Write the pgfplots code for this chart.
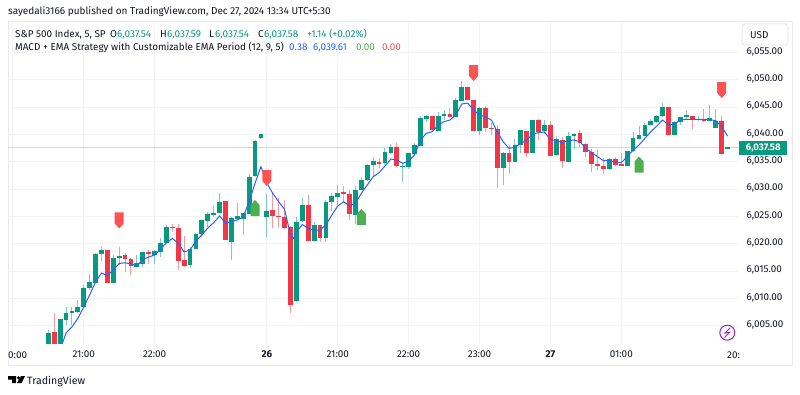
\documentclass[border=0pt]{standalone}
\usepackage{fontspec}
\usepackage{pgfplots}
\usepackage{pgfplotstable}
\pgfplotsset{compat=1.18}
\setmainfont{Fira Sans}
\definecolor{tvg}{HTML}{089981}
\definecolor{tvr}{HTML}{F23645}
\definecolor{sigr}{HTML}{FF5252}
\definecolor{sigg}{HTML}{4CAF50}
\definecolor{ema}{HTML}{2962FF}
\definecolor{gridc}{HTML}{F3F4F6}
\definecolor{framec}{HTML}{E8EAEF}
\definecolor{txt}{HTML}{131722}
\definecolor{vio}{HTML}{9C27B0}
\pgfdeclareplotmark{flagdown}{%
  \pgfsetcornersarced{\pgfpoint{1pt}{1pt}}%
  \pgfpathmoveto{\pgfqpoint{-4.5pt}{8pt}}%
  \pgfpathlineto{\pgfqpoint{4.5pt}{8pt}}%
  \pgfpathlineto{\pgfqpoint{4.5pt}{-3pt}}%
  \pgfsetcornersarced{\pgfpointorigin}%
  \pgfpathlineto{\pgfqpoint{0pt}{-8pt}}%
  \pgfpathlineto{\pgfqpoint{-4.5pt}{-3pt}}%
  \pgfpathclose\pgfusepathqfill}
\pgfdeclareplotmark{flagup}{%
  \pgfpathmoveto{\pgfqpoint{-4.5pt}{-8pt}}%
  \pgfpathlineto{\pgfqpoint{4.5pt}{-8pt}}%
  \pgfpathlineto{\pgfqpoint{4.5pt}{3pt}}%
  \pgfpathlineto{\pgfqpoint{0pt}{8pt}}%
  \pgfpathlineto{\pgfqpoint{-4.5pt}{3pt}}%
  \pgfpathclose\pgfusepathqfill}
\pgfplotstableread{
i o h l c
0 6001.34 6004.27 6001.34 6003.67
2 6001.34 6006.28 6001.16 6006.28
3 6006.10 6008.53 6005.18 6007.32
4 6007.32 6008.53 6005.18 6007.69
5 6007.61 6009.75 6007.43 6008.53
6 6008.47 6012.49 6008.24 6012.00
7 6011.95 6014.51 6011.58 6013.04
8 6012.92 6018.29 6012.92 6018.16
9 6018.11 6019.50 6016.94 6018.89
11 6012.92 6017.98 6012.92 6017.43
12 6017.38 6019.50 6016.15 6017.74
15 6015.79 6017.98 6015.73 6016.52
16 6016.39 6018.58 6015.73 6018.53
18 6017.98 6018.89 6016.33 6018.71
19 6018.58 6021.03 6017.67 6020.17
20 6020.23 6023.46 6020.17 6023.04
24 6016.15 6019.50 6015.66 6019.08
25 6019.08 6022.00 6019.08 6021.76
26 6021.76 6024.32 6021.32 6024.32
27 6024.19 6025.89 6023.15 6025.47
28 6025.29 6027.12 6024.87 6025.60
29 6025.60 6029.26 6025.60 6027.72
31 6020.41 6024.87 6017.06 6024.69
32 6024.56 6027.43 6024.38 6025.11
33 6024.61 6025.66 6021.63 6025.60
34 6025.53 6032.73 6025.53 6032.18
35 6032.42 6039.00 6032.24 6038.82
36 6039.37 6040.19 6039.13 6040.10
37 6024.93 6029.13 6021.21 6025.97
42 6009.57 6024.98 6009.39 6024.07
43 6024.14 6028.34 6024.01 6027.06
45 6020.59 6024.07 6020.53 6023.41
47 6021.14 6028.12 6020.30 6027.72
48 6027.72 6029.37 6026.08 6028.71
49 6028.58 6030.72 6027.12 6029.26
52 6025.29 6030.59 6023.65 6029.86
53 6029.86 6032.29 6029.86 6031.69
54 6031.69 6034.61 6031.60 6034.49
55 6034.43 6035.89 6032.29 6035.11
57 6034.74 6037.48 6034.43 6036.75
58 6036.62 6038.27 6036.53 6037.67
60 6034.01 6034.61 6031.38 6034.25
61 6034.07 6036.67 6033.70 6036.57
62 6036.44 6038.40 6036.35 6038.03
63 6037.96 6043.39 6037.90 6042.97
64 6042.84 6043.57 6042.35 6043.44
66 6040.70 6044.06 6040.65 6043.39
67 6043.39 6044.48 6042.66 6043.81
69 6043.26 6046.68 6043.21 6046.31
70 6046.18 6049.79 6046.12 6048.69
73 6040.65 6045.03 6039.92 6044.85
77 6033.94 6036.81 6030.77 6036.62
79 6035.03 6039.13 6034.98 6038.09
80 6038.09 6040.83 6036.68 6040.77
82 6036.62 6042.66 6036.62 6042.66
84 6040.65 6042.66 6040.10 6041.74
86 6036.26 6039.73 6036.17 6039.13
88 6035.05 6040.52 6035.00 6039.73
89 6039.73 6040.23 6037.30 6040.10
95 6033.64 6035.71 6033.60 6035.58
98 6034.30 6037.08 6034.25 6036.99
99 6036.99 6040.52 6036.90 6039.31
100 6039.24 6041.56 6039.18 6039.92
101 6039.73 6042.11 6039.73 6041.74
102 6041.74 6042.90 6041.74 6042.47
103 6042.35 6043.57 6042.05 6043.44
104 6043.39 6045.82 6043.30 6045.03
106 6039.97 6042.47 6039.97 6042.35
107 6042.24 6043.21 6041.74 6043.15
108 6043.15 6044.25 6042.84 6043.57
110 6042.71 6043.39 6042.47 6042.84
112 6042.53 6045.40 6042.47 6043.02
113 6041.25 6044.67 6041.20 6042.53
115 6037.44 6037.64 6037.44 6037.64
}\upbars
\pgfplotstableread{
i o h l c
1 6003.96 6007.32 6000.98 6001.34
10 6018.89 6018.89 6012.92 6012.92
13 6017.92 6018.29 6014.93 6017.25
14 6017.19 6017.43 6014.32 6015.97
17 6018.47 6018.89 6016.33 6018.11
21 6023.10 6023.65 6022.24 6022.91
22 6022.97 6023.65 6015.24 6016.88
23 6017.06 6021.45 6015.79 6015.91
30 6027.85 6027.85 6020.72 6020.72
38 6026.20 6029.26 6022.97 6025.16
39 6025.16 6028.34 6023.15 6024.93
40 6024.93 6028.03 6022.73 6022.91
41 6023.04 6023.28 6007.43 6008.78
44 6027.06 6028.95 6020.53 6020.59
46 6023.41 6023.46 6020.41 6021.03
50 6029.50 6030.59 6027.72 6029.13
51 6029.18 6029.86 6024.38 6025.42
56 6035.03 6035.71 6033.83 6034.61
59 6037.67 6038.51 6034.16 6034.25
65 6043.33 6043.33 6040.83 6040.83
68 6043.81 6044.80 6043.21 6043.26
71 6048.74 6048.74 6046.31 6046.31
72 6046.31 6046.31 6040.65 6040.65
74 6044.85 6045.22 6040.52 6041.14
75 6041.25 6042.11 6039.92 6041.01
76 6041.01 6041.74 6030.17 6033.94
78 6036.62 6038.09 6032.79 6035.03
81 6040.65 6040.74 6035.95 6036.62
83 6042.66 6042.84 6039.00 6040.46
85 6041.74 6042.42 6036.07 6036.13
87 6039.00 6039.60 6033.83 6035.22
90 6040.23 6040.83 6037.67 6038.40
91 6038.27 6038.46 6035.84 6036.75
92 6036.75 6037.30 6033.21 6034.56
93 6034.56 6037.30 6033.52 6034.25
94 6034.25 6035.71 6032.79 6033.64
96 6035.53 6035.95 6034.25 6034.49
97 6034.61 6036.68 6034.25 6034.30
105 6045.03 6045.03 6039.97 6039.97
109 6043.39 6043.48 6041.01 6042.71
111 6042.84 6044.67 6042.29 6042.53
114 6042.53 6043.39 6036.26 6036.44
}\downbars
\pgfplotstableread{
i v
2 6000.61
3 6003.72
4 6004.82
5 6006.37
6 6008.47
7 6010.67
8 6013.04
9 6014.69
10 6014.23
11 6015.24
12 6016.43
13 6016.57
14 6016.33
15 6015.97
16 6017.16
17 6017.61
18 6017.98
19 6019.08
20 6020.17
21 6020.99
22 6020.17
23 6018.53
24 6018.89
25 6020.54
26 6021.63
27 6022.91
28 6023.88
29 6025.11
30 6023.83
31 6024.07
32 6024.38
33 6024.98
34 6027.72
35 6031.09
36 6034.12
37 6031.09
38 6029.26
39 6027.72
40 6026.33
41 6021.63
41.5 6021.03
42 6022.18
43 6023.55
44 6022.86
45 6022.55
46 6022.55
47 6023.46
48 6025.29
49 6026.94
50 6027.72
51 6026.94
52 6027.43
53 6029.26
54 6030.77
55 6032.29
56 6033.02
57 6034.25
58 6035.53
59 6035.34
60 6034.74
61 6035.16
62 6036.26
63 6039.00
64 6040.23
65 6040.52
66 6041.74
67 6042.35
68 6042.66
69 6043.57
70 6045.58
71 6045.76
72 6044.48
73 6043.57
74 6043.26
75 6042.66
76 6040.52
77 6038.69
78 6037.48
79 6037.67
80 6038.40
81 6039.00
82 6040.10
83 6040.34
84 6040.46
85 6039.09
86 6038.91
87 6038.51
88 6038.87
89 6039.00
90 6038.69
91 6037.48
92 6036.68
93 6035.95
94 6035.22
95 6035.22
96 6035.03
97 6034.85
98 6035.95
99 6037.17
100 6038.09
101 6039.31
102 6040.52
103 6041.56
104 6042.66
105 6041.74
106 6041.93
107 6042.66
108 6042.78
109 6042.78
110 6042.78
111 6042.78
112 6042.73
113 6042.53
114 6041.43
115 6039.73
}\emaline
\begin{document}
\begin{tikzpicture}[x=1pt,y=1pt]
\path[use as bounding box,fill=white] (0,0) rectangle (800,394);
\draw[framec,line width=1pt] (8,29) rectangle (792,372);
\begin{axis}[
  at={(8pt,51pt)},anchor=south west,scale only axis,
  width=730pt,height=321pt,
  xmin=-6.82,xmax=116.76,ymin=6001.89,ymax=6060.58,
  axis line style={draw=none},
  major tick length=0pt,
  grid=major,grid style={gridc,line width=1pt},
  xtick={-6,6,18,37,49,61,73,85,97},
  xticklabels={,21:00,22:00,\bfseries 26,21:00,22:00,23:00,\bfseries 27,01:00},
  ytick={6005,6010,6015,6020,6025,6030,6035,6040,6045,6050,6055},
  yticklabel pos=right,
  tick label style={font=\fontsize{9.9pt}{11pt}\selectfont,text=txt},
  yticklabel style={anchor=west,xshift=5pt,yshift=1pt,
    /pgf/number format/.cd,fixed,fixed zerofill,precision=2,1000 sep={,},assume math mode=true},
  xticklabel style={anchor=base,yshift=-14pt},
  clip=true,
]
\addplot[tvg!28,line width=1pt,forget plot] coordinates {(-6.82,6037.58) (116.76,6037.58)};
\addplot[draw=none,forget plot,error bars/.cd,y dir=plus,y explicit,error mark=none,
  error bar style={line width=1pt,color=tvg,opacity=0.5}]
  table[x=i,y=l,y error plus expr=\thisrow{h}-\thisrow{l}] {\upbars};
\addplot[draw=none,forget plot,error bars/.cd,y dir=plus,y explicit,error mark=none,
  error bar style={line width=1pt,color=tvr,opacity=0.5}]
  table[x=i,y=l,y error plus expr=\thisrow{h}-\thisrow{l}] {\downbars};
\addplot[draw=none,forget plot,error bars/.cd,y dir=plus,y explicit,error mark=none,
  error bar style={line width=4.8pt,color=tvg}]
  table[x=i,y=o,y error plus expr=\thisrow{c}-\thisrow{o}] {\upbars};
\addplot[draw=none,forget plot,error bars/.cd,y dir=plus,y explicit,error mark=none,
  error bar style={line width=4.8pt,color=tvr}]
  table[x=i,y=c,y error plus expr=\thisrow{o}-\thisrow{c}] {\downbars};
\addplot[ema,line width=1pt,forget plot] table[x=i,y=v] {\emaline};
\addplot[only marks,mark=flagdown,color=sigr,forget plot] coordinates
  {(12,6024.29) (37,6032.05) (72,6051.25) (114,6048.14)};
\addplot[only marks,mark=flagup,color=sigg,forget plot] coordinates
  {(35,6026.57) (53,6024.93) (100,6034.52)};
\end{axis}
% header text
\node[anchor=base west,inner sep=0,text=txt,font=\fontsize{10pt}{12pt}\selectfont] at (8,379.5) {sayedali3166 published on TradingView.com, Dec 27, 2024 13:34 UTC+5:30};
\begin{scope}[every node/.style={anchor=base west,inner sep=0,font=\fontsize{9.9pt}{11pt}\selectfont,text=txt}]
\node at (15,356.5) {S\&P 500 Index, 5, SP};
\node at (110,356.5) {O};
\node[text=tvg] at (117,356.5) {6,037.54};
\node at (160,356.5) {H};
\node[text=tvg] at (167,356.5) {6,037.59};
\node at (209,356.5) {L};
\node[text=tvg] at (215,356.5) {6,037.54};
\node at (258,356.5) {C};
\node[text=tvg] at (264,356.5) {6,037.58};
\node[text=tvg] at (307,356.5) {+1.14 (+0.02\%)};
\node at (15,343) {MACD + EMA Strategy with Customizable EMA Period (12, 9, 5)};
\node[text=ema] at (289,343) {0.38};
\node[text=ema] at (313,343) {6,039.61};
\node[text=sigg] at (356,343) {0.00};
\node[text=sigr] at (382,343) {0.00};
\node at (8,36) {0:00};
\node at (727,36) {20:};
\node at (750,355.5) {USD};
\end{scope}
\draw[framec,line width=1pt,rounded corners=3pt] (742,349) rectangle (788,370);
\fill[tvg] (739.3,239) rectangle (787.3,253);
\node[anchor=center,inner sep=0,text=white,font=\bfseries\fontsize{9.6pt}{11pt}\selectfont] at (763.3,246) {6,037.58};
% lightning icon
\draw[vio,line width=1pt] (727.3,61.3) circle (7.5);
\draw[vio,line width=1pt] (730,66) -- (725,61) -- (729.6,61.6) -- (724.6,56.6);
% logo
\fill[black] (8,18) -- (16,18) -- (16,11) -- (12,11) -- (12,14.5) -- (8,14.5) -- cycle;
\fill[black] (18.5,16.2) circle (1.7);
\fill[black] (21,18) -- (25,18) -- (21.5,11) -- (17,11) -- cycle;
\node[anchor=base west,inner sep=0,text=txt,font=\fontsize{10.6pt}{13pt}\selectfont] at (27,9.8) {TradingView};
\end{tikzpicture}
\end{document}
